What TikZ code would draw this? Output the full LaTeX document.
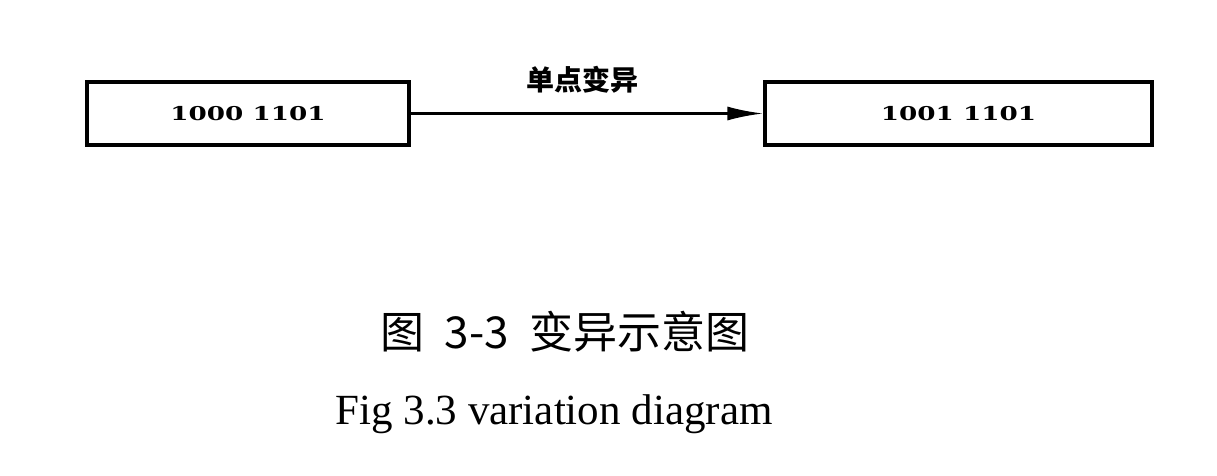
\documentclass[tikz,border=0pt]{standalone}
\usepackage{fontspec}
\setmainfont{Liberation Serif}
\newfontfamily\cjk{Noto Sans CJK SC}
\newfontfamily\boxfont{DejaVu Serif}
\usetikzlibrary{arrows.meta}
\begin{document}
\begin{tikzpicture}[x=1pt,y=-1pt,
  gene/.style={draw,line width=3.2pt,minimum width=322pt,minimum height=63pt,inner sep=0pt,
    font=\boxfont\bfseries\fontsize{19}{22}\selectfont},
  conn/.style={line width=2.8pt,-{Latex[length=36pt,width=14pt]}}]
\useasboundingbox (0,0) rectangle (1217,476);
\node[gene] (a) at (248,113.5) {\scalebox{1.38}[1]{1000 1101}};
\node[gene,minimum width=387pt] (b) at (958.5,113.5) {\scalebox{1.38}[1]{1001 1101}};
\draw[conn] (a.east) -- (b.west);
\node[font=\cjk\bfseries\fontsize{28}{32}\selectfont] (lbl) at (582,80) {单点变异};
\node[font=\cjk\fontsize{44}{50}\selectfont] (cap1) at (565,332) {图\hspace{20pt}3-3\hspace{20pt}变异示意图};
\node[font=\fontsize{43}{50}\selectfont] (cap2) at (554,414) {Fig 3.3 variation diagram};
\end{tikzpicture}
\end{document}
